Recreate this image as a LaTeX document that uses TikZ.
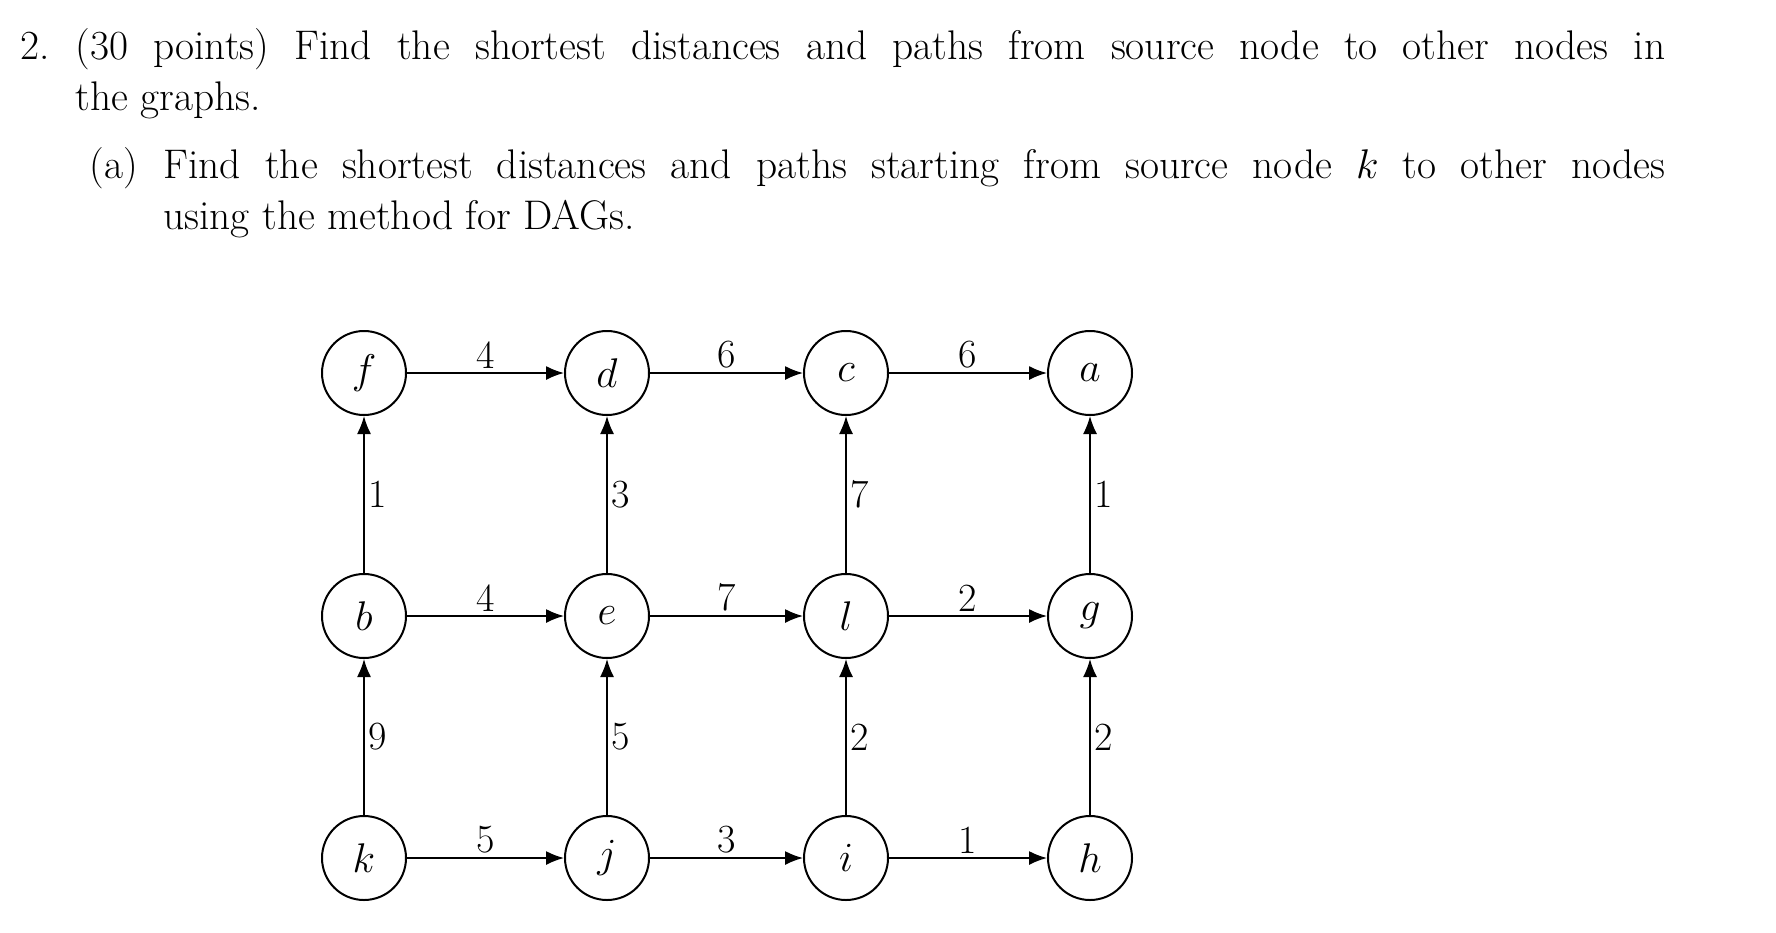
\documentclass[tikz,border=0pt]{standalone}
\usetikzlibrary{arrows.meta}
\begin{document}
\begin{tikzpicture}[x=0.5pt,y=-0.5pt,
  vtx/.style={draw,circle,line width=1pt,minimum size=42pt,inner sep=0pt,font=\fontsize{20}{24}\selectfont},
  edg/.style={line width=0.8pt,-{Latex[length=9pt,width=7pt]}},
  lab/.style={font=\fontsize{20}{24}\selectfont,inner sep=2pt},
  txt/.style={anchor=base west,inner sep=0pt,font=\fontsize{20.7}{25}\selectfont}]
\useasboundingbox (0,0) rectangle (1776,932);
\node[txt] (n2) at (20,59) {2.};
\node[txt] (l1) at (75,59) {\makebox[795pt][s]{(30 points) Find the shortest distances and paths from source node to other nodes in}};
\node[txt] (l2) at (75,110) {the graphs.};
\node[txt] (na) at (89,178) {(a)};
\node[txt] (l3) at (163,178) {\makebox[751pt][s]{Find the shortest distances and paths starting from source node $k$ to other nodes}};
\node[txt] (l4) at (163,229) {using the method for DAGs.};
\node[vtx] (f) at (364,373) {$f$};
\node[vtx] (d) at (607,373) {$d$};
\node[vtx] (c) at (846,373) {$c$};
\node[vtx] (a) at (1090,373) {$a$};
\node[vtx] (b) at (364,616) {$b$};
\node[vtx] (e) at (607,616) {$e$};
\node[vtx] (l) at (846,616) {$l$};
\node[vtx] (g) at (1090,616) {$g$};
\node[vtx] (k) at (364,858) {$k$};
\node[vtx] (j) at (607,858) {$j$};
\node[vtx] (i) at (846,858) {$i$};
\node[vtx] (h) at (1090,858) {$h$};
\draw[edg] (f) -- node[lab,above]{4} (d);
\draw[edg] (d) -- node[lab,above]{6} (c);
\draw[edg] (c) -- node[lab,above]{6} (a);
\draw[edg] (b) -- node[lab,above]{4} (e);
\draw[edg] (e) -- node[lab,above]{7} (l);
\draw[edg] (l) -- node[lab,above]{2} (g);
\draw[edg] (k) -- node[lab,above]{5} (j);
\draw[edg] (j) -- node[lab,above]{3} (i);
\draw[edg] (i) -- node[lab,above]{1} (h);
\draw[edg] (b) -- node[lab,right]{1} (f);
\draw[edg] (e) -- node[lab,right]{3} (d);
\draw[edg] (l) -- node[lab,right]{7} (c);
\draw[edg] (g) -- node[lab,right]{1} (a);
\draw[edg] (k) -- node[lab,right]{9} (b);
\draw[edg] (j) -- node[lab,right]{5} (e);
\draw[edg] (i) -- node[lab,right]{2} (l);
\draw[edg] (h) -- node[lab,right]{2} (g);
\end{tikzpicture}
\end{document}
